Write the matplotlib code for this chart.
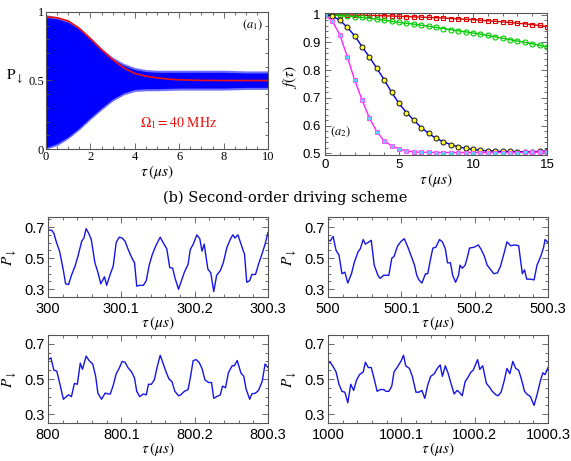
import numpy as np
import matplotlib
matplotlib.use('Agg')
import matplotlib.pyplot as plt
from matplotlib.ticker import MultipleLocator, FixedLocator, FixedFormatter

matplotlib.rcParams['font.family'] = 'DejaVu Serif'
matplotlib.rcParams['mathtext.fontset'] = 'stix'

#-------------------- (a1) decay of P_down, Omega_1 = 40 MHz --------------------
tau_env = [0, 0.5, 1, 1.5, 2, 2.5, 3, 3.5, 4, 4.5, 5, 6, 7, 8, 9, 10]
band_up_out = [0.98, 0.965, 0.94, 0.89, 0.815, 0.735, 0.67, 0.625, 0.595, 0.58, 0.575, 0.575, 0.575, 0.575, 0.57, 0.57]
band_lo_out = [0.0, 0.025, 0.075, 0.14, 0.215, 0.285, 0.35, 0.395, 0.42, 0.425, 0.425, 0.43, 0.43, 0.43, 0.435, 0.435]
band_up = [0.96, 0.95, 0.925, 0.875, 0.80, 0.72, 0.655, 0.61, 0.58, 0.565, 0.56, 0.56, 0.56, 0.56, 0.555, 0.555]
band_lo = [0.01, 0.04, 0.09, 0.155, 0.23, 0.30, 0.365, 0.41, 0.435, 0.44, 0.44, 0.445, 0.445, 0.445, 0.45, 0.45]

tau_fit = [0, 0.5, 1, 1.5, 2, 2.5, 3, 3.5, 4, 4.5, 5, 5.5, 6, 7, 8, 9, 10]
p_fit = [0.965, 0.958, 0.935, 0.88, 0.806, 0.726, 0.653, 0.592, 0.551, 0.532, 0.519, 0.51, 0.505, 0.501, 0.5, 0.5, 0.5]

#-------------------- (a2) fidelity f(tau) --------------------
tau_f = np.arange(0, 15.01, 0.5)
f_red = [1.0, 1.0, 0.999, 0.999, 0.998, 0.998, 0.997, 0.997, 0.996, 0.995, 0.994,
         0.993, 0.992, 0.991, 0.990, 0.989, 0.988, 0.986, 0.985, 0.983, 0.982,
         0.980, 0.978, 0.976, 0.974, 0.972, 0.969, 0.967, 0.964, 0.961, 0.957]
f_green = [1.0, 0.999, 0.997, 0.995, 0.993, 0.990, 0.987, 0.984, 0.980, 0.976, 0.972,
           0.969, 0.966, 0.962, 0.958, 0.954, 0.950, 0.946, 0.942, 0.938, 0.934,
           0.930, 0.925, 0.920, 0.915, 0.910, 0.905, 0.900, 0.895, 0.890, 0.884]
f_blue = [1.0, 0.995, 0.98, 0.955, 0.924, 0.885, 0.847, 0.807, 0.765, 0.72, 0.68,
          0.647, 0.62, 0.593, 0.572, 0.554, 0.542, 0.531, 0.524, 0.518, 0.514,
          0.511, 0.509, 0.508, 0.507, 0.507, 0.506, 0.506, 0.506, 0.507, 0.508]
f_magenta = [1.0, 0.976, 0.928, 0.849, 0.765, 0.693, 0.627, 0.578, 0.545, 0.527, 0.516,
             0.508, 0.505, 0.504, 0.504, 0.503, 0.503, 0.503, 0.503, 0.503, 0.503,
             0.503, 0.503, 0.503, 0.503, 0.503, 0.503, 0.504, 0.504, 0.505, 0.506]

#-------------------- (b) second-order driving scheme --------------------
t_start = [300, 500, 800, 1000]
xtick_labels = [['300', '300.1', '300.2', '300.3'],
                ['500', '500.1', '500.2', '500.3'],
                ['800', '800.1', '800.2', '800.3'],
                ['1000', '1000.1', '1000.2', '1000.3']]

dt_300 = [0, .005, .008, .011, .016, .021, .024, .028, .032, .037, .041, .046, .049, .052, .056,
          .059, .064, .068, .072, .077, .080, .084, .089, .093, .097, .101, .105, .109, .114, .118,
          .121, .125, .130, .134, .138, .142, .147, .153, .157, .162, .166, .170, .173, .178, .182,
          .186, .191, .194, .198, .203, .207, .210, .213, .218, .222, .226, .230, .235, .239, .244,
          .249, .252, .255, .259, .265, .268, .271, .275, .278, .283, .287, .292, .296, .300]
p_300 = [0.68, 0.68, 0.66, 0.61, 0.54, 0.42, 0.335, 0.33, 0.39, 0.45, 0.515, 0.61, 0.63, 0.69, 0.655,
         0.62, 0.47, 0.41, 0.335, 0.38, 0.325, 0.385, 0.45, 0.60, 0.635, 0.63, 0.61, 0.56, 0.505, 0.47,
         0.32, 0.325, 0.325, 0.355, 0.455, 0.52, 0.58, 0.635, 0.60, 0.56, 0.44, 0.435, 0.375, 0.30, 0.355,
         0.41, 0.46, 0.555, 0.59, 0.65, 0.625, 0.545, 0.59, 0.43, 0.405, 0.285, 0.39, 0.42, 0.47, 0.57,
         0.625, 0.65, 0.63, 0.65, 0.565, 0.525, 0.345, 0.355, 0.395, 0.395, 0.46, 0.53, 0.59, 0.665]

dt_500 = [0, .003, .007, .011, .015, .019, .023, .027, .032, .036, .041, .044, .048, .051, .056,
          .059, .063, .068, .071, .076, .079, .083, .087, .090, .095, .100, .104, .109, .113, .118,
          .121, .124, .128, .133, .136, .139, .143, .147, .152, .156, .160, .163, .167, .170, .174,
          .178, .180, .183, .187, .190, .193, .199, .205, .209, .213, .217, .222, .226, .231, .235,
          .240, .244, .249, .255, .260, .265, .268, .271, .276, .281, .285, .290, .294, .296, .300]
p_500 = [.62, .61, .64, .55, .52, .40, .41, .34, .40, .475, .54, .56, .62, .59, .605,
         .615, .455, .39, .37, .39, .39, .39, .50, .51, .58, .61, .625, .57, .52, .455,
         .39, .36, .34, .40, .40, .475, .565, .57, .62, .605, .56, .47, .47, .39, .345,
         .39, .455, .435, .455, .505, .565, .57, .585, .555, .515, .455, .425, .40, .405, .445,
         .53, .605, .58, .585, .58, .40, .425, .365, .365, .36, .455, .51, .57, .62, .60]

dt_800 = [0, .004, .008, .012, .016, .021, .025, .028, .032, .036, .040, .044, .047, .052, .056,
          .061, .065, .068, .073, .078, .082, .085, .089, .093, .097, .101, .105, .109, .114, .118,
          .121, .125, .130, .134, .137, .141, .145, .149, .153, .156, .161, .165, .169, .173, .178,
          .181, .186, .191, .194, .198, .202, .206, .210, .214, .219, .223, .226, .230, .235, .238,
          .242, .246, .251, .254, .258, .263, .267, .270, .275, .278, .283, .287, .292, .296, .300]
p_800 = [.61, .62, .55, .545, .475, .385, .40, .41, .40, .475, .47, .59, .555, .63, .605,
         .585, .515, .42, .385, .42, .415, .415, .465, .53, .56, .60, .595, .565, .54, .505,
         .43, .40, .415, .41, .47, .47, .495, .57, .635, .60, .54, .50, .485, .43, .405,
         .41, .43, .44, .505, .605, .61, .595, .56, .495, .48, .48, .39, .40, .41, .46,
         .45, .535, .575, .575, .605, .535, .515, .445, .385, .415, .42, .435, .485, .585, .565]

dt_1000 = [0, .003, .007, .011, .015, .019, .023, .027, .031, .035, .039, .043, .048, .051, .055,
           .059, .063, .067, .071, .076, .079, .083, .087, .090, .095, .100, .103, .106, .111, .115,
           .120, .124, .128, .132, .136, .140, .145, .149, .153, .156, .160, .164, .167, .172, .176,
           .179, .183, .187, .191, .195, .198, .204, .207, .211, .216, .220, .224, .229, .232, .236,
           .240, .244, .248, .252, .256, .260, .264, .268, .271, .276, .281, .285, .290, .293, .296, .300]
p_1000 = [.59, .595, .57, .54, .47, .43, .425, .365, .47, .435, .495, .525, .54, .595, .565,
          .565, .50, .43, .44, .44, .43, .43, .46, .54, .57, .605, .635, .575, .56, .515,
          .425, .425, .435, .39, .465, .515, .53, .56, .58, .515, .575, .53, .485, .415, .435,
          .425, .405, .485, .51, .54, .55, .61, .555, .575, .475, .455, .43, .41, .405, .425,
          .485, .56, .53, .60, .56, .55, .495, .43, .415, .40, .35, .41, .495, .535, .525, .565]

dt_list = [dt_300, dt_500, dt_800, dt_1000]
p_list = [p_300, p_500, p_800, p_1000]

frame_col = '#555555'
sans = 'Liberation Sans'


def style_frame(ax):
    for s in ax.spines.values():
        s.set_color(frame_col)
        s.set_linewidth(0.8)
    ax.tick_params(which='both', direction='in', top=True, right=True, color=frame_col, width=0.6)
    ax.tick_params(which='major', length=4)
    ax.tick_params(which='minor', length=2)


fig = plt.figure(figsize=(5.71, 4.61), dpi=100)
W, H = 571.0, 461.0


def add_axes_px(left, right, top, bottom):
    return fig.add_axes([left / W, 1 - bottom / H, (right - left) / W, (bottom - top) / H])


# (a1)
ax1 = add_axes_px(46, 268, 12, 149)
ax1.fill_between(tau_env, band_lo_out, band_up_out, color='#6f6fff', lw=0)
ax1.fill_between(tau_env, band_lo, band_up, color='#0000ff', lw=0)
ax1.plot(tau_fit, p_fit, color='#ee1111', lw=1.2)
ax1.set_xlim(0, 10)
ax1.set_ylim(0, 1)
ax1.xaxis.set_major_locator(MultipleLocator(2))
ax1.xaxis.set_minor_locator(MultipleLocator(0.5))
ax1.yaxis.set_major_locator(FixedLocator([0, 0.5, 1]))
ax1.yaxis.set_major_formatter(FixedFormatter(['0', '0.5', '1']))
ax1.yaxis.set_minor_locator(MultipleLocator(0.1))
style_frame(ax1)
ax1.tick_params(labelsize=9, pad=1.5)
for lab in ax1.get_xticklabels() + ax1.get_yticklabels():
    lab.set_family('Liberation Serif')
ax1.set_xlabel(r'$\tau\,(\mu s)$', fontsize=11, labelpad=0)
ax1.set_ylabel(r'$\mathrm{P}_{\downarrow}$', fontsize=11, rotation=0)
ax1.yaxis.set_label_coords(-0.14, 0.46)
ax1.text(0.932, 0.905, r'$(a_1)$', transform=ax1.transAxes, ha='center', va='center', fontsize=9)
ax1.text(5.95, 0.19, r'$\Omega_1 = 40\ \mathrm{MHz}$', color='#ee1111', ha='center', va='center', fontsize=10)

# (a2)
ax2 = add_axes_px(325, 547, 13, 155)
ax2.plot(tau_f, f_red, '-s', color='#e00000', mfc='none', mec='#e00000', ms=3.4, mew=0.8, lw=1.0)
ax2.plot(tau_f, f_green, '-o', color='#00cc00', mfc='none', mec='#00cc00', ms=3.6, mew=0.8, lw=1.0)
ax2.plot(tau_f, f_blue, '-o', color='#0000ee', mfc='#ffff33', mec='#111111', ms=3.6, mew=0.7, lw=1.0)
ax2.plot(tau_f, f_magenta, '-s', color='#ff22ff', mfc='#66ccff', mec='#ff55ff', ms=3.4, mew=0.7, lw=1.0)
ax2.set_xlim(0, 15)
ax2.set_ylim(0.494, 1.006)
ax2.xaxis.set_major_locator(MultipleLocator(5))
ax2.xaxis.set_minor_locator(MultipleLocator(1))
ax2.yaxis.set_major_locator(FixedLocator([0.5, 0.6, 0.7, 0.8, 0.9, 1.0]))
ax2.yaxis.set_major_formatter(FixedFormatter(['0.5', '0.6', '0.7', '0.8', '0.9', '1']))
ax2.yaxis.set_minor_locator(MultipleLocator(0.02))
style_frame(ax2)
ax2.tick_params(labelsize=9.5, pad=3)
for lab in ax2.get_xticklabels() + ax2.get_yticklabels():
    lab.set_family(sans)
ax2.set_xlabel(r'$\tau\,(\mu s)$', fontsize=11, labelpad=0)
ax2.set_ylabel(r'$f(\tau)$', fontsize=11)
ax2.yaxis.set_label_coords(-0.115, 0.55)
ax2.text(0.072, 0.162, r'$(a_2)$', transform=ax2.transAxes, ha='center', va='center', fontsize=9)

fig.text(0.5, 1 - 198 / H, '(b) Second-order driving scheme', ha='center', va='center', fontsize=10.5)

# (b) four panels
boxes = [(48, 268, 217, 297, (0.25, 0.765)),
         (328, 548, 217, 297, (0.25, 0.765)),
         (48, 268, 335, 423, (0.25, 0.75)),
         (328, 548, 335, 423, (0.25, 0.75))]

for k, (l, r, t, b, ylim) in enumerate(boxes):
    ax = add_axes_px(l, r, t, b)
    t0 = t_start[k]
    tt = [t0 + d for d in dt_list[k]]
    ax.plot(tt, p_list[k], color='#1515e6', lw=1.0)
    ax.set_xlim(t0, t0 + 0.3)
    ax.set_ylim(*ylim)
    ax.xaxis.set_major_locator(FixedLocator([t0, t0 + 0.1, t0 + 0.2, t0 + 0.3]))
    ax.xaxis.set_major_formatter(FixedFormatter(xtick_labels[k]))
    ax.xaxis.set_minor_locator(MultipleLocator(0.02))
    ax.yaxis.set_major_locator(FixedLocator([0.3, 0.5, 0.7]))
    ax.yaxis.set_major_formatter(FixedFormatter(['0.3', '0.5', '0.7']))
    ax.yaxis.set_minor_locator(MultipleLocator(0.05))
    style_frame(ax)
    ax.tick_params(labelsize=10.5, pad=2)
    ax.tick_params(axis='x', pad=3.5)
    for lab in ax.get_xticklabels() + ax.get_yticklabels():
        lab.set_family(sans)
    ax.set_xlabel(r'$\tau\,(\mu s)$', fontsize=11, labelpad=-1)
    ax.set_ylabel(r'$P_{\downarrow}$', fontsize=11)
    ax.yaxis.set_label_coords(-0.13, 0.5)

plt.savefig('out.png', dpi=100)
